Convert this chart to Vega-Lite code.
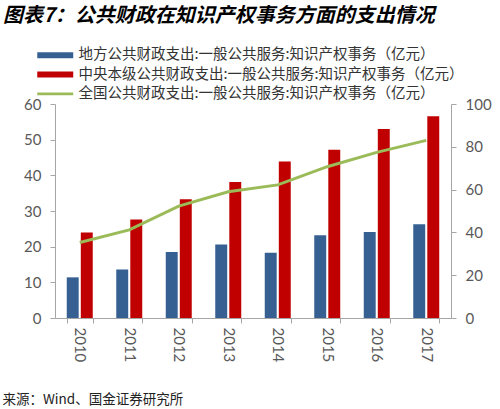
{
  "$schema": "https://vega.github.io/schema/vega-lite/v6.json",
  "autosize": {"type": "none"},
  "width": 396,
  "height": 214,
  "padding": {"left": 55, "top": 104, "right": 49, "bottom": 91},
  "background": "white",
  "config": {"view": {"stroke": null}, "font": "Noto Sans CJK SC"},
  "title": {
    "text": "图表7：公共财政在知识产权事务方面的支出情况",
    "anchor": "start",
    "frame": "group",
    "dx": -52,
    "dy": -2,
    "font": "Noto Sans CJK SC",
    "fontSize": 20,
    "fontStyle": "italic",
    "fontWeight": "bold",
    "color": "#000000",
    "baseline": "middle",
    "offset": 10
  },
  "data": {
    "values": [
      {"year": "2010", "series": "地方公共财政支出:一般公共服务:知识产权事务（亿元）", "value": 11.4},
      {"year": "2011", "series": "地方公共财政支出:一般公共服务:知识产权事务（亿元）", "value": 13.6},
      {"year": "2012", "series": "地方公共财政支出:一般公共服务:知识产权事务（亿元）", "value": 18.5},
      {"year": "2013", "series": "地方公共财政支出:一般公共服务:知识产权事务（亿元）", "value": 20.6},
      {"year": "2014", "series": "地方公共财政支出:一般公共服务:知识产权事务（亿元）", "value": 18.3},
      {"year": "2015", "series": "地方公共财政支出:一般公共服务:知识产权事务（亿元）", "value": 23.2},
      {"year": "2016", "series": "地方公共财政支出:一般公共服务:知识产权事务（亿元）", "value": 24.1},
      {"year": "2017", "series": "地方公共财政支出:一般公共服务:知识产权事务（亿元）", "value": 26.3},
      {"year": "2010", "series": "中央本级公共财政支出:一般公共服务:知识产权事务（亿元）", "value": 24.0},
      {"year": "2011", "series": "中央本级公共财政支出:一般公共服务:知识产权事务（亿元）", "value": 27.6},
      {"year": "2012", "series": "中央本级公共财政支出:一般公共服务:知识产权事务（亿元）", "value": 33.3},
      {"year": "2013", "series": "中央本级公共财政支出:一般公共服务:知识产权事务（亿元）", "value": 38.1},
      {"year": "2014", "series": "中央本级公共财政支出:一般公共服务:知识产权事务（亿元）", "value": 43.9},
      {"year": "2015", "series": "中央本级公共财政支出:一般公共服务:知识产权事务（亿元）", "value": 47.2},
      {"year": "2016", "series": "中央本级公共财政支出:一般公共服务:知识产权事务（亿元）", "value": 53.0},
      {"year": "2017", "series": "中央本级公共财政支出:一般公共服务:知识产权事务（亿元）", "value": 56.6},
      {"year": "2010", "series": "全国公共财政支出:一般公共服务:知识产权事务（亿元）", "value": 35.3},
      {"year": "2011", "series": "全国公共财政支出:一般公共服务:知识产权事务（亿元）", "value": 41.2},
      {"year": "2012", "series": "全国公共财政支出:一般公共服务:知识产权事务（亿元）", "value": 52.3},
      {"year": "2013", "series": "全国公共财政支出:一般公共服务:知识产权事务（亿元）", "value": 59.0},
      {"year": "2014", "series": "全国公共财政支出:一般公共服务:知识产权事务（亿元）", "value": 62.2},
      {"year": "2015", "series": "全国公共财政支出:一般公共服务:知识产权事务（亿元）", "value": 70.7},
      {"year": "2016", "series": "全国公共财政支出:一般公共服务:知识产权事务（亿元）", "value": 77.4},
      {"year": "2017", "series": "全国公共财政支出:一般公共服务:知识产权事务（亿元）", "value": 83.0}
    ]
  },
  "layer": [
    {
      "transform": [{"filter": "datum.series !== '全国公共财政支出:一般公共服务:知识产权事务（亿元）'"}],
      "mark": {"type": "bar"},
      "encoding": {
        "x": {
          "field": "year",
          "type": "ordinal",
          "scale": {"paddingInner": 0.475, "paddingOuter": 0.2375},
          "axis": {
            "title": "来源：Wind、国金证券研究所",
            "titleFont": "Noto Sans CJK SC",
            "titleFontSize": 13.5,
            "titleFontWeight": "normal",
            "titleColor": "#222222",
            "titleAlign": "left",
            "titleAnchor": "start",
            "titleBaseline": "middle",
            "titleX": -53,
            "titleY": 81,
            "labelAngle": 90,
            "labelFont": "Lato",
            "labelFontSize": 15,
            "labelColor": "#595959",
            "labelPadding": 4,
            "domainColor": "#a6a6a6",
            "tickColor": "#a6a6a6",
            "tickSize": 5,
            "tickBand": "extent",
            "grid": false
          }
        },
        "xOffset": {"field": "series", "type": "nominal", "sort": null, "scale": {"paddingInner": 0.15}},
        "y": {
          "field": "value",
          "type": "quantitative",
          "scale": {"domain": [0, 60]},
          "axis": {
            "title": null,
            "values": [0, 10, 20, 30, 40, 50, 60],
            "labelFont": "Lato",
            "labelFontSize": 15,
            "labelColor": "#595959",
            "labelPadding": 9,
            "domainColor": "#a6a6a6",
            "tickColor": "#a6a6a6",
            "tickSize": 5,
            "grid": false
          }
        },
        "color": {
          "field": "series",
          "type": "nominal",
          "scale": {
            "domain": [
              "地方公共财政支出:一般公共服务:知识产权事务（亿元）",
              "中央本级公共财政支出:一般公共服务:知识产权事务（亿元）",
              "全国公共财政支出:一般公共服务:知识产权事务（亿元）"
            ],
            "range": ["#376092", "#c00000", "#9bbb59"]
          },
          "legend": {
            "title": null,
            "orient": "none",
            "direction": "vertical",
            "legendX": -7,
            "legendY": -56,
            "padding": 0,
            "symbolSize": 196,
            "labelOffset": 16,
            "rowPadding": 4.3,
            "labelFont": "Noto Sans CJK SC",
            "labelFontSize": 14.5,
            "labelColor": "#333333",
            "labelLimit": 600,
            "encode": {
              "symbols": {
                "update": {
                  "shape": {"signal": "datum.value === '全国公共财政支出:一般公共服务:知识产权事务（亿元）' ? 'M-2.57,-0.21H2.57V0.21H-2.57Z' : 'M-2.57,-0.43H2.57V0.43H-2.57Z'"},
                  "fill": {"scale": "color", "field": "value"},
                  "strokeWidth": {"value": 0},
                  "opacity": {"value": 1},
                  "fillOpacity": {"value": 1}
                }
              }
            }
          }
        }
      }
    },
    {
      "transform": [{"filter": "datum.series === '全国公共财政支出:一般公共服务:知识产权事务（亿元）'"}],
      "mark": {"type": "line", "strokeWidth": 3},
      "encoding": {
        "x": {"field": "year", "type": "ordinal"},
        "y": {
          "field": "value",
          "type": "quantitative",
          "scale": {"domain": [0, 100]},
          "axis": {
            "orient": "right",
            "title": null,
            "values": [0, 20, 40, 60, 80, 100],
            "labelFont": "Lato",
            "labelFontSize": 15,
            "labelColor": "#595959",
            "labelPadding": 9,
            "domainColor": "#a6a6a6",
            "tickColor": "#a6a6a6",
            "tickSize": 5,
            "grid": false
          }
        },
        "color": {"field": "series", "type": "nominal", "legend": null}
      }
    }
  ],
  "resolve": {"scale": {"y": "independent"}}
}
